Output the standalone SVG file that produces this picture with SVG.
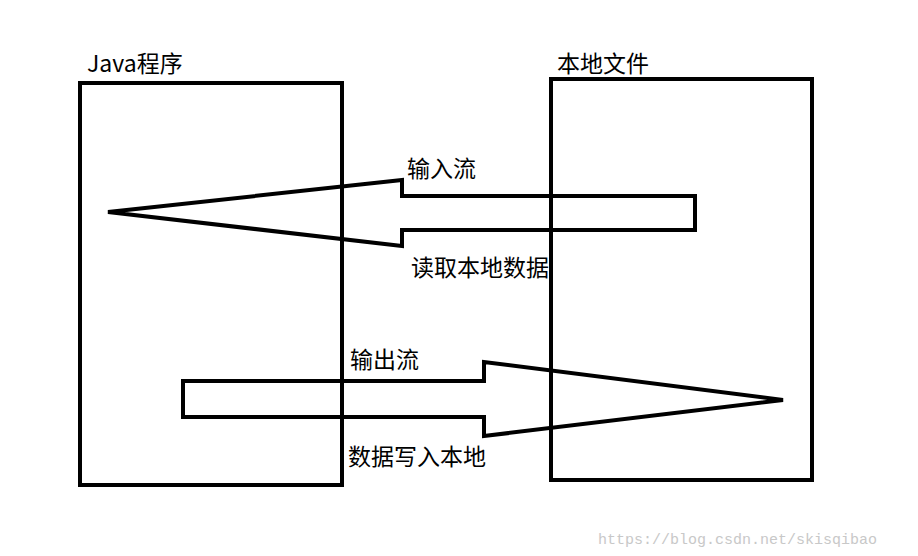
<svg xmlns="http://www.w3.org/2000/svg" width="918" height="556" viewBox="0 0 918 556">
<style>
.box{fill:none;stroke:#000;stroke-width:4}
.arr{fill:none;stroke:#000;stroke-width:4;stroke-linejoin:miter}
.t{font-family:"Noto Sans CJK SC","Noto Sans",sans-serif;font-size:23px;fill:#000}
.wm{font-family:"Liberation Mono",monospace;font-size:15px;fill:#c8c8c8}
</style>
<rect width="918" height="556" fill="#fff"/>
<g id="java"><rect class="box" x="80" y="83" width="262" height="402"/><text class="t" x="87" y="72">Java程序</text></g>
<g id="file"><rect class="box" x="551" y="79" width="261" height="401"/><text class="t" x="557" y="72">本地文件</text></g>
<g id="connectors">
<polygon class="arr" points="108,212 402,180 402,196 695,196 695,230 402,230 402,246"/>
<polygon class="arr" points="783,400 484,362 484,381 183,381 183,417 484,417 484,436"/>
</g>
<g id="labels">
<text class="t" x="407" y="177">输入流</text>
<text class="t" x="411" y="276">读取本地数据</text>
<text class="t" x="350" y="368">输出流</text>
<text class="t" x="348" y="465">数据写入本地</text>
</g>
<text class="wm" x="598" y="544">https://blog.csdn.net/skisqibao</text>
</svg>
